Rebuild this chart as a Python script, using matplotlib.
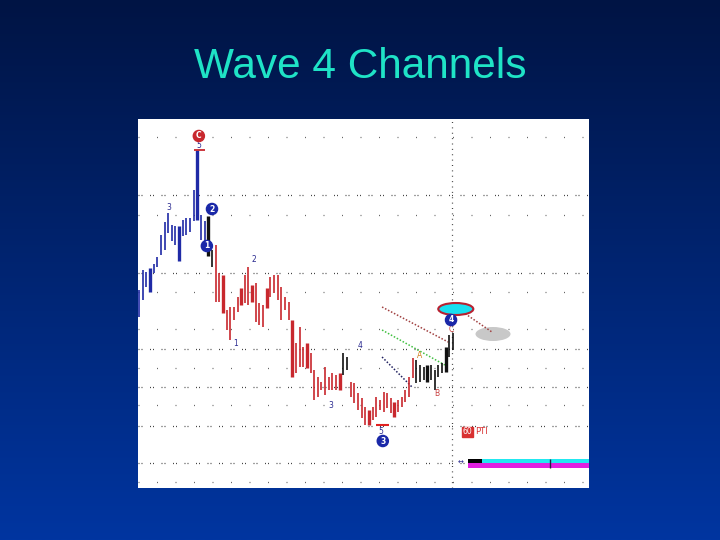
import numpy as np
import matplotlib
matplotlib.use("Agg")
import matplotlib.pyplot as plt
from matplotlib.patches import Ellipse

# bar highs / lows (price units), one entry per session
highs = [210, 230, 228, 232, 236, 243, 265, 278, 287, 275, 274, 274, 280, 282, 282, 310, 350,
         285, 279, 284, 250, 255, 227, 225, 190, 193, 193, 203, 212, 225, 233, 215, 217, 197,
         195, 212, 223, 225, 225, 213, 203, 198, 180, 157, 173, 153, 157, 147, 130, 123, 118,
         133, 123, 127, 125, 127, 147, 143, 118, 117, 107, 102, 93, 90, 93, 103, 100, 108, 107,
         102, 98, 100, 103, 110, 123, 142, 140, 135, 133, 135, 135, 130, 135, 137, 153, 165, 167]
lows = [183, 200, 213, 208, 227, 233, 245, 250, 267, 259, 255, 239, 264, 265, 268, 279, 280,
        260, 252, 244, 233, 198, 198, 187, 170, 160, 180, 188, 195, 197, 195, 198, 178, 175,
        173, 192, 203, 207, 200, 180, 190, 180, 123, 127, 133, 133, 132, 127, 100, 103, 110,
        105, 110, 110, 110, 110, 125, 130, 103, 97, 90, 82, 75, 75, 80, 83, 90, 88, 92, 87,
        83, 88, 93, 98, 103, 122, 117, 118, 120, 118, 120, 110, 123, 127, 128, 143, 150]
# trend colouring segments: (first bar, last bar, state)
trend_runs = [(0, 18, "up"), (19, 20, "neutral"), (21, 55, "down"), (56, 57, "neutral"),
              (58, 75, "down"), (76, 86, "neutral")]
wide_bars = [3, 11, 16, 19, 23, 28, 31, 35, 42, 46, 55, 63, 70, 79, 84]

dense_levels = [305, 227, 151, 113, 74, 37]
sparse_levels = [363, 285, 208, 171, 132, 95, 18]
today = 85.75

# wave 4 channel lines (bar, price) pairs
chan_upper = [(66.6, 193), (84.7, 158)]
chan_mid = [(66.6, 170), (83.8, 135)]
chan_lower = [(66.6, 143), (74.8, 113)]
projection = [(87.1, 192), (96.7, 168)]

# wave labels: (bar, price, text)
plain_labels = [(8.2, 292, "3"), (16.4, 355, "5"), (31.5, 241, "2"), (26.6, 157, "1"),
                (52.6, 95, "3"), (60.5, 154, "4"), (66.3, 69, "5")]
circle_labels = [(16.4, 364, "C", "#c8282e"), (20.0, 291, "2", "#1a28a8"),
                 (18.6, 254, "1", "#1a28a8"), (66.8, 59, "3", "#1a28a8"),
                 (85.5, 180, "4", "#1a28a8")]
abc_labels = [(77.0, 145, "A", "#d08020"), (81.6, 107, "B", "#c84040"),
              (85.5, 171, "C", "#c84040")]

colors = {"up": "#1f2aa6", "down": "#c8282e", "neutral": "#111111"}

fig = plt.figure(figsize=(7.2, 5.4), dpi=100)

# slide background gradient
bg = fig.add_axes([0, 0, 1, 1])
grad = np.linspace(0, 1, 256).reshape(-1, 1)
top = np.array([0x00, 0x14, 0x44]) / 255
bot = np.array([0x00, 0x35, 0xa0]) / 255
img = top + (bot - top) * grad[:, :, None]
bg.imshow(img, aspect="auto", extent=[0, 1, 0, 1])
bg.axis("off")

fig.text(0.5, 0.875, "Wave 4 Channels", ha="center", va="center",
         fontsize=30.5, color="#1fe3c6", family="Liberation Sans")

ax = fig.add_axes([138 / 720, 52 / 540, 451 / 720, 369 / 540])
ax.set_facecolor("white")
ax.set_xlim(-0.27, 123.3)
ax.set_ylim(12, 381)
for s in ax.spines.values():
    s.set_visible(False)
ax.set_xticks([])
ax.set_yticks([])

for lv in dense_levels:
    ax.axhline(lv, color="#444444", lw=0.9, ls=(0, (0.8, 1.6, 0.8, 6)), zorder=1)
for lv in sparse_levels:
    ax.axhline(lv, color="#666666", lw=0.9, ls=(0, (0.8, 14)), zorder=1)
ax.axvline(today, color="#444444", lw=0.9, ls=(0, (0.8, 3.5)), zorder=1)

x = np.arange(len(highs))
for a, b, state in trend_runs:
    for i in range(a, b + 1):
        lw = 2.4 if i in wide_bars else 1.2
        ax.vlines(x[i], lows[i], highs[i], color=colors[state], lw=lw, zorder=3)

# extreme markers
ax.hlines(highs[16], 15.0, 18.0, color="#c8282e", lw=1.3, zorder=4)
ax.hlines(lows[63], 65.0, 68.5, color="#e02020", lw=1.5, zorder=4)

for pts, col in [(chan_upper, "#a04040"), (chan_mid, "#40c040"),
                 (chan_lower, "#202060"), (projection, "#a04040")]:
    (x0, y0), (x1, y1) = pts
    ax.plot([x0, x1], [y0, y1], color=col, lw=1.1, ls=(0, (1, 1.2)), zorder=2)

ax.add_patch(Ellipse((86.8, 191), 9.6, 12, fc="#19dff0", ec="#b82030", lw=1.5, zorder=5))
ax.add_patch(Ellipse((97.0, 166), 9.6, 14, fc="#c8c8c8", ec="none", zorder=1.5))

for bx, py, t in plain_labels:
    ax.text(bx, py, t, fontsize=5.5, color="#2a2a90", ha="center", va="center", zorder=6)
for bx, py, t, c in circle_labels:
    ax.text(bx, py, t, fontsize=5.5, color="white", ha="center", va="center", zorder=7,
            fontweight="bold",
            bbox=dict(boxstyle="circle,pad=0.14", fc=c, ec=c))
for bx, py, t, c in abc_labels:
    ax.text(bx, py, t, fontsize=5.5, color=c, ha="center", va="center", zorder=6)

# study panel markers at the lower right
ax.text(90.1, 68, "60", fontsize=5.5, color="white", ha="center", va="center",
        bbox=dict(boxstyle="square,pad=0.1", fc="#d83030", ec="#d83030"), zorder=6)
ax.text(92.0, 68, "PTI", fontsize=6, color="#d83030", ha="left", va="center", zorder=6)
ax.text(88.0, 37, "↔", fontsize=5, color="#2a2a90", ha="center", va="center", zorder=6)
ax.fill_between([90.1, 94.0], 37, 41, color="black", lw=0, zorder=4)
ax.fill_between([94.0, 123.3], 37, 41, color="#22e8f0", lw=0, zorder=4)
ax.fill_between([90.1, 123.3], 32, 37, color="#e020e0", lw=0, zorder=4)
ax.vlines(112.6, 32, 41, color="#202040", lw=1.0, zorder=5)

fig.savefig("out.png", dpi=100)
